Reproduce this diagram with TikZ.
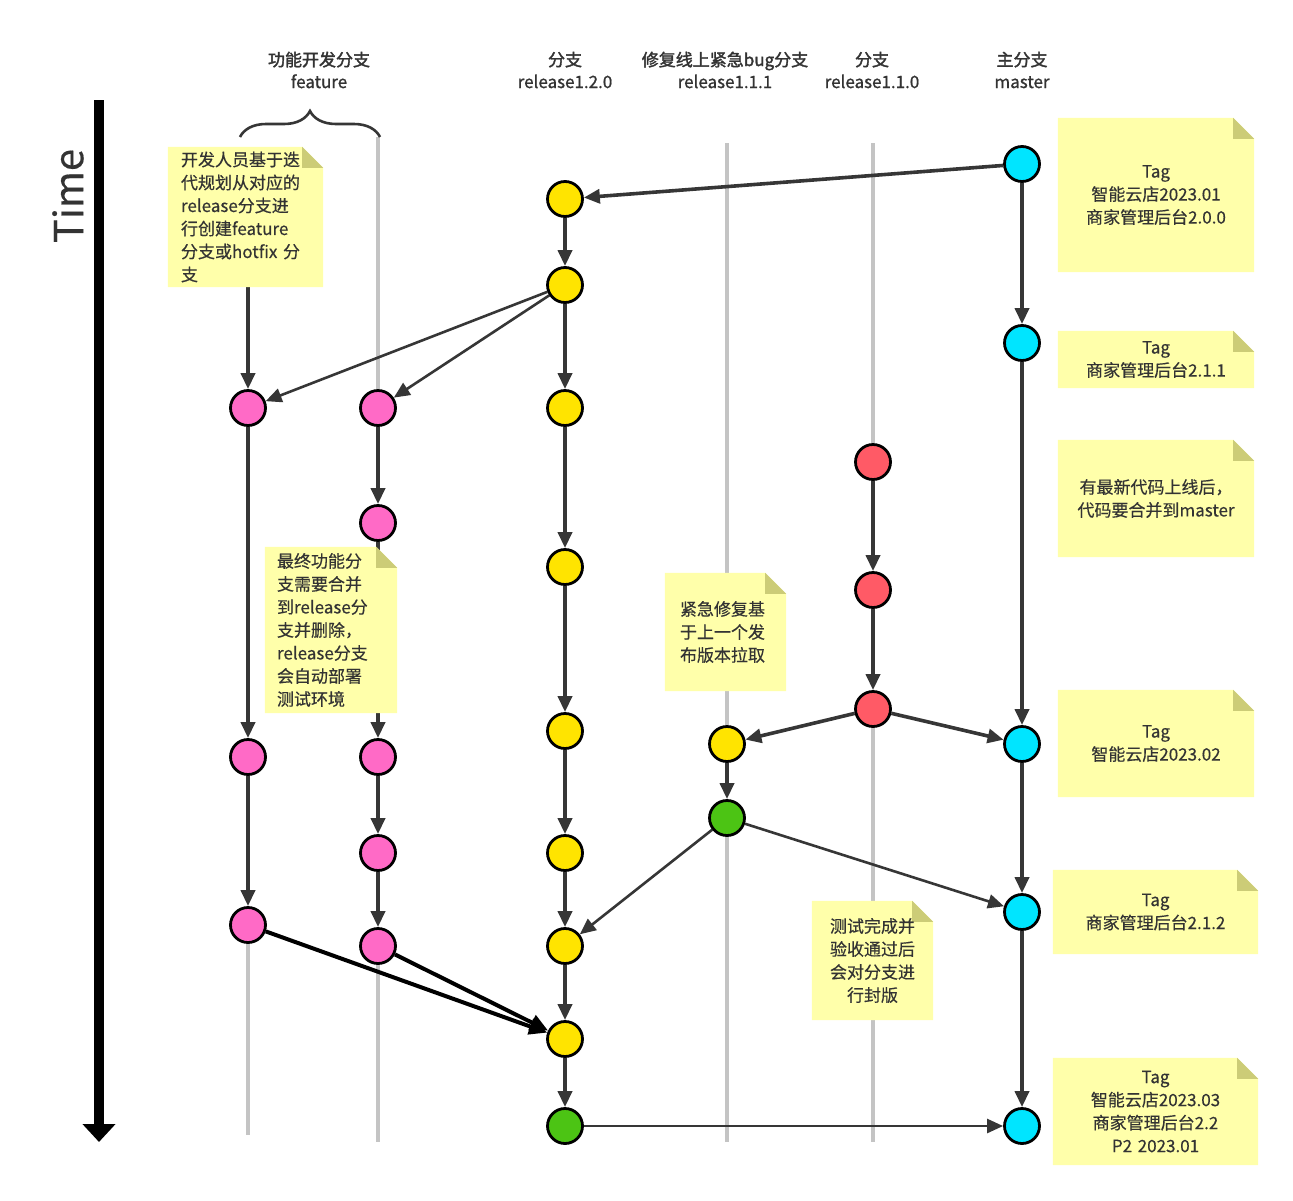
\documentclass[tikz,border=0pt]{standalone}
\usepackage{fontspec}
\newfontfamily\cjk{Noto Sans CJK SC}[FakeBold=0.4]
\newfontfamily\cjkm{Noto Sans CJK SC}[FakeBold=1.0]
\newfontfamily\cjkb{Noto Sans CJK SC}[FakeBold=2.0]
\usetikzlibrary{arrows.meta,decorations.pathreplacing}
\pgfdeclarelayer{lines}
\pgfdeclarelayer{notebg}
\pgfsetlayers{lines,notebg,main}
\definecolor{edge}{HTML}{363636}
\definecolor{gl}{HTML}{C4C4C4}
\definecolor{ny}{HTML}{FFFFAA}
\definecolor{nf}{HTML}{CCCC77}
\definecolor{cy}{HTML}{00E5FF}
\definecolor{yl}{HTML}{FFE400}
\definecolor{pk}{HTML}{FF6AC6}
\definecolor{rd}{HTML}{FF5A66}
\definecolor{gr}{HTML}{4CC414}
\definecolor{tx}{HTML}{333333}
\tikzset{
  commit/.style={circle, draw=black, line width=2.8pt, minimum size=35pt, inner sep=0pt},
  arr/.style={draw=edge, line width=3.6pt, -{Triangle[length=16pt,width=14pt]}},
  thinarr/.style={arr, line width=2.6pt},
  blackarr/.style={draw=black, line width=4pt, -{Triangle[length=18pt,width=16pt]}},
  gline/.style={draw=gl, line width=3.5pt},
  note/.style={font=\cjk\fontsize{17}{23}\selectfont, text=tx, inner ysep=0pt},
  lnote/.style={note, align=left},
  cnote/.style={note, align=center, inner xsep=4pt},
  hdr/.style={font=\cjkm\fontsize{17}{22}\selectfont, text=tx, align=center}
}
\begin{document}
\begin{tikzpicture}[x=1pt,y=-1pt]
\path[use as bounding box] (0,0) rectangle (1293,1200);

% headers
\node[hdr] (h-feat) at (319,70) {{\cjkb 功能开发分支}\\feature};
\node[hdr] (h-r120) at (565,70) {{\cjkb 分支}\\release1.2.0};
\node[hdr] (h-r111) at (725,70) {{\cjkb 修复线上紧急bug分支}\\release1.1.1};
\node[hdr] (h-r110) at (872,70) {{\cjkb 分支}\\release1.1.0};
\node[hdr] (h-mast) at (1022,70) {{\cjkb 主分支}\\master};

% time axis
\coordinate (tA) at (99,100);
\coordinate (tB) at (99,1142);
\draw[black, line width=10pt, -{Triangle[length=18pt,width=32pt]}] (tA) -- (tB);
\node[font=\cjk\fontsize{40}{40}\selectfont, text=tx, rotate=90] (time) at (68,196) {Time};

% brace
\coordinate (bL) at (240,137);
\coordinate (bR) at (380,137);
\draw[edge, line width=2.6pt, decorate, decoration={brace, amplitude=26pt}] (bL) -- (bR);

% master
\node[commit, fill=cy] (m1) at (1022,164) {};
\node[commit, fill=cy] (m2) at (1022,343) {};
\node[commit, fill=cy] (m3) at (1022,744) {};
\node[commit, fill=cy] (m4) at (1022,912) {};
\node[commit, fill=cy] (m5) at (1022,1126) {};
% release1.2.0
\node[commit, fill=yl] (r1) at (565,199) {};
\node[commit, fill=yl] (r2) at (565,285) {};
\node[commit, fill=yl] (r3) at (565,408) {};
\node[commit, fill=yl] (r4) at (565,567) {};
\node[commit, fill=yl] (r5) at (565,731) {};
\node[commit, fill=yl] (r6) at (565,853) {};
\node[commit, fill=yl] (r7) at (565,946) {};
\node[commit, fill=yl] (r8) at (565,1039) {};
\node[commit, fill=gr] (r9) at (565,1126) {};
% feature
\node[commit, fill=pk] (f1) at (248,408) {};
\node[commit, fill=pk] (f2) at (248,757) {};
\node[commit, fill=pk] (f3) at (248,925) {};
\node[commit, fill=pk] (g1) at (378,408) {};
\node[commit, fill=pk] (g2) at (378,523) {};
\node[commit, fill=pk] (g3) at (378,757) {};
\node[commit, fill=pk] (g4) at (378,853) {};
\node[commit, fill=pk] (g5) at (378,946) {};
% hotfix 1.1.1
\node[commit, fill=yl] (h1) at (727,744) {};
\node[commit, fill=gr] (h2) at (727,818) {};
% release1.1.0
\node[commit, fill=rd] (q1) at (873,462) {};
\node[commit, fill=rd] (q2) at (873,590) {};
\node[commit, fill=rd] (q3) at (873,709) {};

% notes
\node[lnote, text width=129pt, inner xsep=13pt, minimum height=140pt] (n1) at (245.5,217)
  {开发人员基于迭\\代规划从对应的\\release分支进\\行创建feature\\分支或hotfix 分\\支};
\node[lnote, text width=108pt, inner xsep=12pt, minimum height=166pt] (n2) at (331,630)
  {最终功能分\\支需要合并\\到release分\\支并删除，\\release分支\\会自动部署\\测试环境};
\node[lnote, text width=91pt, inner xsep=15pt, minimum height=118pt] (n3) at (725.5,632)
  {紧急修复基\\于上一个发\\布版本拉取};
\node[cnote, text width=113pt, minimum height=119pt] (n4) at (872.5,960.5)
  {测试完成并\\验收通过后\\会对分支进\\行封版};
\node[cnote, text width=188pt, minimum height=154pt] (t1) at (1156,195)
  {Tag\\智能云店2023.01\\商家管理后台2.0.0};
\node[cnote, text width=188pt, minimum height=57pt] (t2) at (1156,359.5)
  {Tag\\商家管理后台2.1.1};
\node[cnote, text width=188pt, minimum height=117pt] (t3) at (1156,498.5)
  {有最新代码上线后，\\代码要合并到master};
\node[cnote, text width=188pt, minimum height=107pt] (t4) at (1156,743.5)
  {Tag\\智能云店2023.02};
\node[cnote, text width=197pt, minimum height=84pt] (t5) at (1155.5,912)
  {Tag\\商家管理后台2.1.2};
\node[cnote, text width=197pt, minimum height=107pt] (t6) at (1155.5,1111.5)
  {Tag\\智能云店2023.03\\商家管理后台2.2\\P2 2023.01};

\begin{pgfonlayer}{notebg}
\foreach \n in {n1,n2,n3,n4,t1,t2,t3,t4,t5,t6}{
  \fill[ny] (\n.south west) -- (\n.north west) -- ([xshift=-21pt]\n.north east)
    -- ([yshift=-21pt]\n.north east) -- (\n.south east) -- cycle;
  \fill[nf] ([xshift=-21pt]\n.north east) -- ([yshift=-21pt]\n.north east)
    -- ([xshift=-21pt,yshift=-21pt]\n.north east) -- cycle;
}
\end{pgfonlayer}

\begin{pgfonlayer}{lines}
% gray branch lines
\coordinate (fb) at (248,1135);
\coordinate (gt) at (378,137);
\coordinate (gb) at (378,1142);
\coordinate (ht) at (727,143);
\coordinate (hb) at (727,1142);
\coordinate (qt) at (873,143);
\coordinate (qb) at (873,1142);
\draw[gline] (f3) -- (fb);
\draw[gline] (gt) -- (g1);
\draw[gline] (g5) -- (gb);
\draw[gline] (ht) -- (h1);
\draw[gline] (h2) -- (hb);
\draw[gline] (qt) -- (q1);
\draw[gline] (q3) -- (qb);
% master
\draw[arr] (m1) -- (m2);
\draw[arr] (m2) -- (m3);
\draw[arr] (m3) -- (m4);
\draw[arr] (m4) -- (m5);
\draw[arr] (m1) -- (r1);
% release1.2.0
\draw[arr] (r1) -- (r2);
\draw[arr] (r2) -- (r3);
\draw[arr] (r3) -- (r4);
\draw[arr] (r4) -- (r5);
\draw[arr] (r5) -- (r6);
\draw[arr] (r6) -- (r7);
\draw[arr] (r7) -- (r8);
\draw[arr] (r8) -- (r9);
\draw[thinarr] (r9) -- (m5);
\draw[thinarr] (r2) -- (f1);
\draw[thinarr] (r2) -- (g1);
% feature
\draw[arr] (n1.south -| f1) -- (f1);
\draw[arr] (f1) -- (f2);
\draw[arr] (f2) -- (f3);
\draw[arr] (g1) -- (g2);
\draw[arr] (g2) -- (g3);
\draw[arr] (g3) -- (g4);
\draw[arr] (g4) -- (g5);
\draw[blackarr] (f3) -- (r8);
\draw[blackarr] (g5) -- (r8);
% release1.1.0 / hotfix
\draw[arr] (q1) -- (q2);
\draw[arr] (q2) -- (q3);
\draw[arr] (q3) -- (h1);
\draw[arr] (q3) -- (m3);
\draw[arr] (h1) -- (h2);
\draw[thinarr] (h2) -- (r7);
\draw[thinarr] (h2) -- (m4);
\end{pgfonlayer}
\end{tikzpicture}
\end{document}
